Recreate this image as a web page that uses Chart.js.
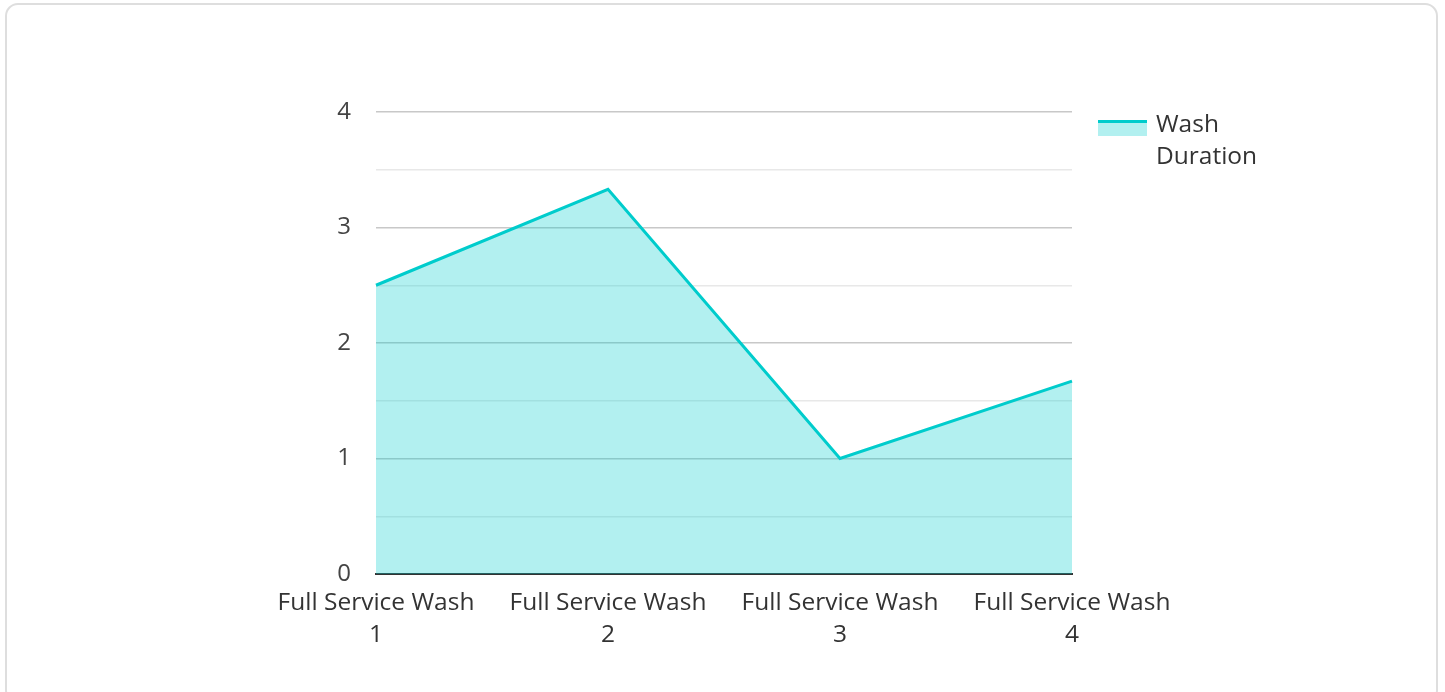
<!DOCTYPE html>
<html>
<head>
<meta charset="utf-8">
<script src="https://cdn.jsdelivr.net/npm/chart.js@4"></script>
<style>
  html, body { margin: 0; padding: 0; background: #fff; }
  body { width: 1445px; height: 692px; position: relative; overflow: hidden; }
  .card {
    position: absolute; left: 5px; top: 3px; width: 1429px; height: 696px;
    border: 2px solid #dedede; border-radius: 13px; box-sizing: content-box;
  }
  .wrap { position: absolute; left: 0; top: 0; width: 1445px; height: 692px; }
</style>
</head>
<body>
<div class="card"></div>
<div class="wrap"><canvas id="chart" width="1445" height="692"></canvas></div>
<script>
const categories = [
  ['Full Service Wash', '1'],
  ['Full Service Wash', '2'],
  ['Full Service Wash', '3'],
  ['Full Service Wash', '4']
];
const washDuration = [2.5, 3.33, 1.0, 1.67];
const seriesLabel = ['Wash', 'Duration'];

const lineColor = 'rgb(0, 204, 204)';
const fillColor = 'rgba(0, 204, 204, 0.3)';
const textFont = "'Open Sans', 'Noto Sans', sans-serif";

// legend on the right, with the label wrapped over two lines
const sideLegend = {
  id: 'sideLegend',
  afterDraw(chart) {
    const ctx = chart.ctx;
    const area = chart.chartArea;
    const x = area.right + 26;
    const y = area.top + 8;
    ctx.save();
    ctx.fillStyle = fillColor;
    ctx.fillRect(x, y, 49, 16);
    ctx.strokeStyle = lineColor;
    ctx.lineWidth = 3;
    ctx.beginPath();
    ctx.moveTo(x, y + 1.5);
    ctx.lineTo(x + 49, y + 1.5);
    ctx.stroke();
    ctx.fillStyle = '#333';
    ctx.font = '24.5px ' + textFont;
    ctx.textBaseline = 'middle';
    ctx.textAlign = 'left';
    seriesLabel.forEach((t, i) => ctx.fillText(t, x + 58, y + 5 + i * 32));
    ctx.restore();
  }
};

new Chart(document.getElementById('chart'), {
  type: 'line',
  data: {
    labels: categories,
    datasets: [{
      label: seriesLabel.join(' '),
      data: washDuration,
      borderColor: lineColor,
      backgroundColor: fillColor,
      borderWidth: 3,
      fill: 'origin',
      tension: 0,
      pointRadius: 0,
      pointHoverRadius: 0
    }]
  },
  options: {
    responsive: false,
    animation: false,
    devicePixelRatio: 1,
    layout: { padding: { left: 0, right: 373, top: 112, bottom: 20 } },
    plugins: { legend: { display: false }, tooltip: { enabled: false } },
    scales: {
      x: {
        offset: false,
        z: 1,
        grid: { display: false, drawTicks: false },
        border: { display: true, color: '#333', width: 2 },
        ticks: {
          color: '#333',
          padding: 13,
          maxRotation: 0,
          autoSkip: false,
          font: { family: textFont, size: 24.5, lineHeight: 1.306 }
        },
        afterFit(scale) { scale.height = 98; }
      },
      y: {
        min: 0,
        max: 4,
        border: { display: false },
        grid: {
          drawTicks: false,
          color: c => Number.isInteger(c.tick.value) ? '#c8c8c8' : '#e8e8e8',
          lineWidth: 1.5
        },
        ticks: {
          stepSize: 0.5,
          color: '#444',
          padding: 25,
          font: { family: textFont, size: 24 },
          callback: v => Number.isInteger(v) ? v : ''
        },
        afterFit(scale) { scale.width = 376; }
      }
    }
  },
  plugins: [sideLegend]
});
</script>
</body>
</html>
